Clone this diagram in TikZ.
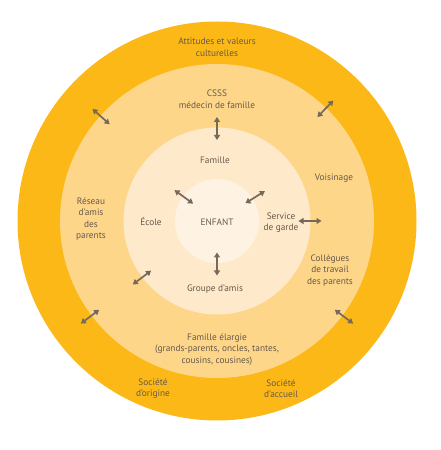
\documentclass[tikz,border=0pt]{standalone}
\usepackage{fontspec}
\setmainfont{PT Sans}
\usetikzlibrary{arrows.meta,positioning,calc}

\definecolor{ringout}{HTML}{FCB817}
\definecolor{ringmid}{HTML}{FED68A}
\definecolor{ringin}{HTML}{FEEACB}
\definecolor{ringkid}{HTML}{FEF3E3}
\definecolor{inkbrown}{HTML}{66594A}
\definecolor{arrowbrown}{HTML}{76695A}

\begin{document}
\begin{tikzpicture}[x=1pt, y=1pt,
  lbl/.style = {align = center, text = inkbrown, inner sep = 0pt, font = \fontsize{9.3}{11.5}\selectfont},
  twoway/.style = {{Triangle[length=5pt, width=6pt]}-{Triangle[length=5pt, width=6pt]}, line width = 1.7pt, draw = arrowbrown}]
\useasboundingbox (0,0) rectangle (441,450);
\coordinate (c) at (217,229);
% the four circles
\fill[ringout] (c) circle (199.5);
\fill[ringmid] (c) circle (157);
\fill[ringin] (c) circle (93.5);
\fill[ringkid] (c) circle (42);
% labels
\node[lbl] (culture) at (217,402.5) {Attitudes et valeurs\\culturelles};
\node[lbl] (csss) at (217,351) {CSSS\\médecin de famille};
\node[lbl] (famille) at (215,290) {Famille};
\node[lbl] (voisin) at (334,272) {Voisinage};
\node[lbl] (reseau) at (91,231) {Réseau\\d'amis\\des\\parents};
\node[lbl] (ecole) at (151,228) {École};
\node[lbl] (enfant) at (217,228) {ENFANT};
\node[lbl] (garde) at (281,227.5) {Service\\de garde};
\node[lbl] (groupe) at (215,161) {Groupe d'amis};
\node[lbl] (travail) at (330,179.5) {Collègues\\de travail\\des parents};
\node[lbl] (elargie) at (217,100.5) {Famille élargie\\(grands-parents, oncles, tantes,\\cousins, cousines)};
\node[lbl] (origine) at (153,61.5) {Société\\d'origine};
\node[lbl] (accueil) at (281,61.5) {Société\\d'accueil};
% arrows across the borders
\foreach \a/\r in {138/156, 46/156, 217/159, 323/159, 90/92.5, 0/93, 217/94, 144/41, 32/45, 270/43}
  \draw[twoway] ($(c)+(\a:{\r-11.5})$) -- ($(c)+(\a:{\r+11.5})$);
\end{tikzpicture}
\end{document}
